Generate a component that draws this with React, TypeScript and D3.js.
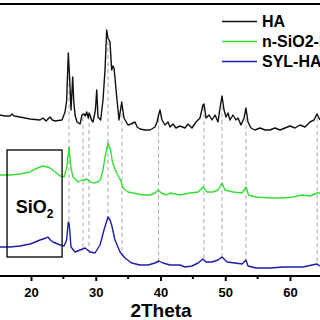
import { useEffect, useRef } from 'react'
import * as d3 from 'd3'

type Pt = [number, number]

// 2Theta (deg), intensity (a.u.)
const haPattern: Pt[] = [
  [15.21, 161], [16.0, 160], [16.76, 160], [17.07, 162], [17.4, 160], [18.3, 159], [19.85, 157],
  [21.39, 156], [21.85, 158], [22.32, 155], [22.93, 159], [23.3, 156], [23.71, 155], [24.79, 156],
  [25.25, 164], [25.5, 175], [25.76, 223], [25.95, 200], [26.18, 166], [26.44, 199], [26.6, 175],
  [26.8, 161], [27.1, 154], [27.57, 152], [27.88, 161], [28.19, 162], [28.4, 160], [28.6, 164],
  [28.85, 158], [28.96, 163], [29.11, 161], [29.35, 156], [29.58, 154], [29.95, 166], [30.15, 186],
  [30.35, 159], [30.76, 156], [31.12, 176], [31.43, 206], [31.69, 246], [31.89, 238], [32.05, 236],
  [32.2, 234], [32.46, 206], [32.65, 210], [32.82, 208], [33.0, 196], [33.24, 179], [33.59, 156],
  [34.01, 174], [34.36, 158], [34.98, 151], [35.44, 152], [36.06, 154], [36.4, 149], [36.83, 147],
  [37.61, 146], [38.38, 146], [39.15, 149], [39.46, 154], [39.75, 162], [39.92, 166], [40.23, 156],
  [40.69, 151], [41.16, 154], [41.47, 149], [41.93, 152], [42.39, 148], [43.01, 150], [43.78, 148],
  [44.25, 152], [44.86, 148], [45.48, 154], [46.1, 158], [46.56, 171], [46.72, 172], [47.03, 158],
  [47.49, 161], [47.95, 156], [48.42, 161], [48.88, 154], [49.19, 168], [49.5, 180], [49.81, 166],
  [50.12, 159], [50.42, 163], [50.73, 156], [51.2, 161], [51.66, 156], [51.97, 158], [52.43, 151],
  [52.9, 158], [53.2, 168], [53.51, 154], [53.98, 148], [54.59, 146], [55.37, 148], [56.14, 146],
  [56.91, 146], [57.68, 148], [58.46, 146], [59.23, 148], [60.0, 150], [60.77, 148], [61.54, 151],
  [62.32, 149], [63.09, 154], [63.71, 156], [64.17, 162], [64.63, 156],
]

const nSio2HaPattern: Pt[] = [
  [15.21, 101], [16.76, 101], [18.3, 102], [19.85, 104], [20.3, 106], [21.39, 109], [21.85, 110],
  [22.5, 109], [22.93, 108], [23.71, 104], [24.5, 100], [25.1, 99], [25.51, 108], [25.87, 129],
  [26.18, 108], [26.5, 99], [27.3, 94], [27.88, 96], [28.19, 96], [28.6, 97], [29.0, 95],
  [29.58, 93], [30.35, 94], [30.76, 97], [31.12, 106], [31.43, 119], [31.89, 133], [32.3, 126],
  [32.6, 113], [33.24, 103], [33.9, 95], [34.2, 88], [34.98, 84], [35.75, 83], [37.3, 81],
  [38.38, 81], [39.15, 83], [39.6, 86], [40.15, 83], [40.92, 81], [41.47, 83], [43.01, 81],
  [44.55, 83], [45.8, 84], [46.56, 89], [47.2, 84], [48.1, 84], [48.88, 86], [49.5, 93],
  [49.95, 86], [51.2, 84], [52.6, 83], [53.2, 89], [53.6, 81], [54.75, 79], [56.91, 78],
  [58.92, 78], [60.46, 79], [61.85, 81], [63.1, 80], [64.17, 83], [64.63, 83],
]

const sylHaPattern: Pt[] = [
  [15.21, 29], [16.76, 29], [18.3, 30], [19.85, 32], [20.3, 33], [21.39, 36], [22.32, 38],
  [22.6, 39], [23.0, 36], [23.4, 34], [24.5, 31], [25.1, 30], [25.5, 36], [25.76, 54], [25.9, 52],
  [26.18, 29], [26.8, 24], [27.57, 26], [28.35, 28], [29.11, 24], [29.88, 23], [30.66, 31],
  [31.27, 46], [31.89, 59], [32.2, 56], [32.46, 51], [32.97, 36], [33.75, 24], [34.51, 18],
  [35.54, 13], [36.83, 11], [38.07, 11], [39.15, 13], [39.77, 15], [40.38, 13], [41.47, 11],
  [43.01, 11], [43.78, 9], [44.86, 10], [45.8, 13], [46.56, 17], [47.03, 14], [47.95, 14],
  [48.88, 16], [49.5, 19], [50.27, 14], [51.5, 13], [52.6, 12], [53.2, 16], [53.51, 10],
  [54.75, 8], [56.91, 8], [58.92, 9], [60.46, 9], [62.0, 9], [63.4, 11], [64.17, 12], [64.63, 10],
]

const referencePeaks = [25.87, 28.03, 28.96, 31.89, 34.05, 39.7, 46.7, 49.5, 53.2, 64.2]
const majorTicks = [20, 30, 40, 50, 60]
const minorTicks = [15, 25, 35, 45, 55, 65]
const seriesNames = ['HA', 'n-SiO2-HA', 'SYL-HA']
const seriesColors = ['#111111', '#33e033', '#1c1cae']
const sio2Range = [16.3, 24.8]

function valueAt(series: Pt[], t: number) {
  const i = d3.bisector((d: Pt) => d[0]).left(series, t)
  if (i <= 0) return series[0][1]
  if (i >= series.length) return series[series.length - 1][1]
  const [x0, y0] = series[i - 1]
  const [x1, y1] = series[i]
  return y0 + ((t - x0) / (x1 - x0)) * (y1 - y0)
}

export default function App() {
  const svgRef = useRef<SVGSVGElement>(null)

  useEffect(() => {
    if (!svgRef.current) return
    const W = 320
    const H = 320
    const font = 'Arial, "Liberation Sans", sans-serif'

    const svg = d3.select(svgRef.current)
    svg.selectAll('*').remove()
    svg.attr('width', W).attr('height', H)

    const x = d3.scaleLinear().domain([20, 60]).range([31, 290])
    const y = d3.scaleLinear().domain([0, 272]).range([276, 4])
    const series = [haPattern, nSio2HaPattern, sylHaPattern]

    // reference dashed lines, from HA down to SYL-HA
    svg.append('g')
      .selectAll('line')
      .data(referencePeaks)
      .enter()
      .append('line')
      .attr('x1', d => x(d))
      .attr('x2', d => x(d))
      .attr('y1', d => y(valueAt(haPattern, d)) + 3)
      .attr('y2', d => y(valueAt(sylHaPattern, d)) + 2)
      .attr('stroke', '#a8a8a8')
      .attr('stroke-width', 1)
      .attr('stroke-dasharray', '4,3')

    const line = d3.line<Pt>().x(d => x(d[0])).y(d => y(d[1]))
    series.forEach((s, i) => {
      svg.append('path')
        .attr('d', line(s))
        .attr('fill', 'none')
        .attr('stroke', seriesColors[i])
        .attr('stroke-width', 1.4)
        .attr('stroke-linejoin', 'round')
    })

    // frame
    svg.append('line')
      .attr('x1', x(14)).attr('x2', x(66))
      .attr('y1', y(272)).attr('y2', y(272))
      .attr('stroke', '#000').attr('stroke-width', 2.2)

    const axis = svg.append('g').attr('transform', `translate(0,${y(0)})`)
    axis.call(
      d3.axisBottom(x).tickValues(majorTicks).tickSize(5).tickPadding(7).tickFormat(d3.format('d'))
    )
    axis.select('.domain').remove()
    axis.selectAll('.tick line').attr('stroke-width', 2)
    axis.selectAll('.tick text')
      .attr('font-family', font)
      .attr('font-size', 13)
      .attr('font-weight', 'bold')
      .attr('fill', '#000')
    axis.selectAll('.minor')
      .data(minorTicks)
      .enter()
      .append('line')
      .attr('x1', d => x(d)).attr('x2', d => x(d))
      .attr('y1', 0).attr('y2', 3)
      .attr('stroke', '#000').attr('stroke-width', 2)
    axis.append('line')
      .attr('x1', x(14)).attr('x2', x(66))
      .attr('stroke', '#000').attr('stroke-width', 2.2)

    svg.append('text')
      .attr('x', 161)
      .attr('y', 317)
      .attr('text-anchor', 'middle')
      .attr('font-family', font)
      .attr('font-size', 19)
      .attr('font-weight', 'bold')
      .text('2Theta')

    // SiO2 box
    svg.append('rect')
      .attr('x', x(sio2Range[0]))
      .attr('y', y(126))
      .attr('width', x(sio2Range[1]) - x(sio2Range[0]))
      .attr('height', y(19) - y(126))
      .attr('fill', 'none')
      .attr('stroke', '#111')
      .attr('stroke-width', 1.4)
    const sio2 = svg.append('text')
      .attr('x', x((sio2Range[0] + sio2Range[1]) / 2))
      .attr('y', 213)
      .attr('font-family', font)
      .attr('font-size', 18)
      .attr('font-weight', 'bold')
      .attr('text-anchor', 'middle')
    sio2.append('tspan').text('SiO')
    sio2.append('tspan').attr('font-size', 12).attr('dy', 5).text('2')

    // legend
    const legend = svg.append('g')
    seriesNames.forEach((name, i) => {
      const ly = 21.5 + i * 20
      legend.append('line')
        .attr('x1', 222).attr('x2', 257)
        .attr('y1', ly).attr('y2', ly)
        .attr('stroke', seriesColors[i])
        .attr('stroke-width', 1.5)
      legend.append('text')
        .attr('x', 262)
        .attr('y', ly + 5.5)
        .attr('font-family', font)
        .attr('font-size', 16)
        .attr('font-weight', 'bold')
        .text(name)
    })
  }, [])

  return (
    <div style={{ position: 'absolute', left: 0, top: 0, width: 320, height: 320, overflow: 'hidden', background: '#fff' }}>
      <svg ref={svgRef} style={{ display: 'block' }} />
    </div>
  )
}
